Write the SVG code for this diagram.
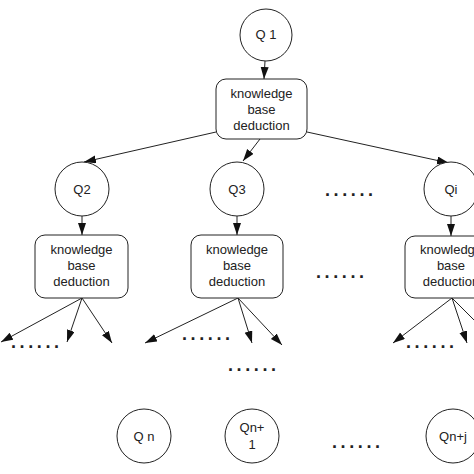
<svg xmlns="http://www.w3.org/2000/svg" width="474" height="474" viewBox="0 0 474 474">
<style>
.n{fill:#fff;stroke:#222;stroke-width:1}
.t{font-family:"Liberation Sans",Arial,sans-serif;font-size:13px;fill:#222;text-anchor:middle}
.d{font-family:"Liberation Sans",Arial,sans-serif;font-size:18px;font-weight:bold;fill:#222;letter-spacing:3.6px}
.c{stroke:#222;stroke-width:1;fill:none;marker-end:url(#a)}
</style>
<defs>
<marker id="a" markerWidth="13" markerHeight="9" refX="12" refY="4" orient="auto" markerUnits="userSpaceOnUse">
<path d="M0,0 L12,4 L0,8 z" fill="#111"/>
</marker>
</defs>
<rect width="474" height="474" fill="#fff"/>
<g id="connectors">
<line class="c" x1="265" y1="61" x2="264" y2="79"/>
<line class="c" x1="216" y1="132" x2="84" y2="162"/>
<line class="c" x1="260" y1="139" x2="243" y2="161"/>
<line class="c" x1="307" y1="132" x2="449" y2="163"/>
<line class="c" x1="82" y1="216" x2="82" y2="235"/>
<line class="c" x1="237" y1="216" x2="237" y2="235"/>
<line class="c" x1="451" y1="216" x2="451" y2="236"/>
<line class="c" x1="82" y1="298" x2="1" y2="342"/>
<line class="c" x1="82" y1="298" x2="67" y2="342"/>
<line class="c" x1="82" y1="298" x2="112" y2="343"/>
<line class="c" x1="238" y1="298" x2="145" y2="343"/>
<line class="c" x1="238" y1="298" x2="252" y2="343"/>
<line class="c" x1="238" y1="298" x2="282" y2="345"/>
<line class="c" x1="452" y1="298" x2="393" y2="343"/>
<line class="c" x1="452" y1="298" x2="467" y2="343"/>
<line class="c" x1="452" y1="298" x2="497" y2="343"/>
</g>
<g id="q1"><circle class="n" cx="266" cy="35" r="26"/><text class="t" x="266" y="39">Q 1</text></g>
<g id="kb1"><rect class="n" x="216" y="79" width="91" height="60" rx="10"/>
<text class="t" x="261.5" y="98">knowledge</text><text class="t" x="261.5" y="114">base</text><text class="t" x="261.5" y="130">deduction</text></g>
<g id="q2"><circle class="n" cx="82" cy="189" r="27"/><text class="t" x="82" y="194">Q2</text></g>
<g id="q3"><circle class="n" cx="237" cy="189" r="27"/><text class="t" x="237" y="194">Q3</text></g>
<g id="qi"><circle class="n" cx="451" cy="189" r="27"/><text class="t" x="451" y="194">Qi</text></g>
<g id="kb2"><rect class="n" x="35" y="235" width="93" height="63" rx="10"/>
<text class="t" x="81.5" y="254">knowledge</text><text class="t" x="81.5" y="270">base</text><text class="t" x="81.5" y="286">deduction</text></g>
<g id="kb3"><rect class="n" x="191" y="235" width="92" height="63" rx="10"/>
<text class="t" x="237" y="254">knowledge</text><text class="t" x="237" y="270">base</text><text class="t" x="237" y="286">deduction</text></g>
<g id="kbi"><rect class="n" x="405" y="236" width="92" height="62" rx="10"/>
<text class="t" x="451" y="254">knowledge</text><text class="t" x="451" y="270">base</text><text class="t" x="451" y="286">deduction</text></g>
<g id="qn"><circle class="n" cx="144" cy="436" r="27"/><text class="t" x="144" y="441">Q n</text></g>
<g id="qn1"><circle class="n" cx="252" cy="436" r="27"/><text class="t" x="252" y="432">Qn+</text><text class="t" x="252" y="449">1</text></g>
<g id="qnj"><circle class="n" cx="453" cy="436" r="27"/><text class="t" x="453" y="441">Qn+j</text></g>
<g id="dots">
<text class="d" x="325" y="196">......</text>
<text class="d" x="316" y="278">......</text>
<text class="d" x="11" y="348">......</text>
<text class="d" x="182" y="340">......</text>
<text class="d" x="228" y="371">......</text>
<text class="d" x="406" y="348">......</text>
<text class="d" x="332" y="448">......</text>
</g>
</svg>
